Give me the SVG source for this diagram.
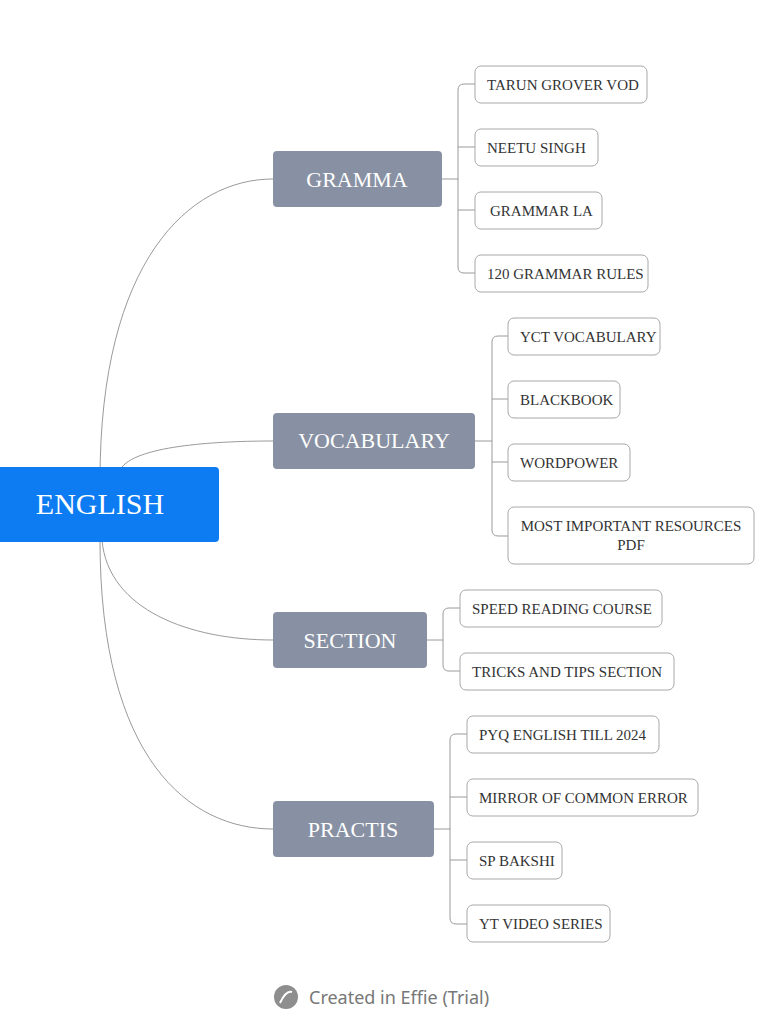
<svg xmlns="http://www.w3.org/2000/svg" width="768" height="1024" viewBox="0 0 768 1024">
<style>
.c{fill:none;stroke:#9a9a9a;stroke-width:1}
.b{fill:#8891a3}
.bt{fill:#fff;font-family:"Liberation Serif",serif;font-size:22px;text-anchor:middle}
.l{fill:#fff;stroke:#a8a8a8;stroke-width:1}
.lt{fill:#333;font-family:"Liberation Serif",serif;font-size:15px}
</style>
<rect width="768" height="1024" fill="#fff"/>
<g id="connectors">
<path class="c" d="M100,480 C100,260 190,179 273,179"/>
<path class="c" d="M122,467 C140,445 220,441 273,441"/>
<path class="c" d="M102,540 C108,610 190,640 273,640"/>
<path class="c" d="M100,540 C100,760 190,829 273,829"/>
<path class="c" d="M442,179 H458 M475,84 H464 Q458,84 458,90 V267 Q458,273 464,273 H475 M458,147 H475 M458,210 H475"/>
<path class="c" d="M475,441 H492 M508,336 H498 Q492,336 492,342 V530 Q492,536 498,536 H508 M492,399 H508 M492,462 H508"/>
<path class="c" d="M427,640 H443 M460,608 H449 Q443,608 443,614 V665 Q443,671 449,671 H460"/>
<path class="c" d="M434,829 H450 M467,734 H456 Q450,734 450,740 V918 Q450,924 456,924 H467 M450,797 H467 M450,860 H467"/>
</g>
<g id="english"><rect x="-6" y="467" width="225" height="75" rx="4" fill="#0d7cf2"/><text x="100" y="514" fill="#fff" font-family="Liberation Serif,serif" font-size="30" text-anchor="middle">ENGLISH</text></g>
<g id="gramma"><rect class="b" x="273" y="151" width="169" height="56" rx="4"/><text class="bt" x="357" y="187">GRAMMA</text></g>
<g id="vocabulary"><rect class="b" x="273" y="413" width="202" height="56" rx="4"/><text class="bt" x="374" y="448">VOCABULARY</text></g>
<g id="section"><rect class="b" x="273" y="612" width="154" height="56" rx="4"/><text class="bt" x="350" y="648">SECTION</text></g>
<g id="practis"><rect class="b" x="273" y="801" width="161" height="56" rx="4"/><text class="bt" x="353" y="837">PRACTIS</text></g>
<g id="l1"><rect class="l" x="475" y="66" width="172" height="37" rx="6"/><text class="lt" x="487" y="90">TARUN GROVER VOD</text></g>
<g id="l2"><rect class="l" x="475" y="129" width="123" height="37" rx="6"/><text class="lt" x="487" y="153">NEETU SINGH</text></g>
<g id="l3"><rect class="l" x="475" y="192" width="127" height="37" rx="6"/><text class="lt" x="490" y="216">GRAMMAR LA</text></g>
<g id="l4"><rect class="l" x="475" y="255" width="173" height="37" rx="6"/><text class="lt" x="487" y="279">120 GRAMMAR RULES</text></g>
<g id="l5"><rect class="l" x="508" y="318" width="152" height="37" rx="6"/><text class="lt" x="520" y="342">YCT VOCABULARY</text></g>
<g id="l6"><rect class="l" x="508" y="381" width="112" height="37" rx="6"/><text class="lt" x="520" y="405">BLACKBOOK</text></g>
<g id="l7"><rect class="l" x="508" y="444" width="122" height="37" rx="6"/><text class="lt" x="520" y="468">WORDPOWER</text></g>
<g id="l8"><rect class="l" x="508" y="507" width="246" height="57" rx="6"/><text class="lt" x="631" y="531" text-anchor="middle">MOST IMPORTANT RESOURCES</text><text class="lt" x="631" y="550" text-anchor="middle">PDF</text></g>
<g id="l9"><rect class="l" x="460" y="590" width="202" height="37" rx="6"/><text class="lt" x="472" y="614">SPEED READING COURSE</text></g>
<g id="l10"><rect class="l" x="460" y="653" width="214" height="37" rx="6"/><text class="lt" x="472" y="677">TRICKS AND TIPS SECTION</text></g>
<g id="l11"><rect class="l" x="467" y="716" width="192" height="37" rx="6"/><text class="lt" x="479" y="740">PYQ ENGLISH TILL 2024</text></g>
<g id="l12"><rect class="l" x="467" y="779" width="231" height="37" rx="6"/><text class="lt" x="479" y="803">MIRROR OF COMMON ERROR</text></g>
<g id="l13"><rect class="l" x="467" y="842" width="95" height="37" rx="6"/><text class="lt" x="479" y="866">SP BAKSHI</text></g>
<g id="l14"><rect class="l" x="467" y="905" width="143" height="37" rx="6"/><text class="lt" x="479" y="929">YT VIDEO SERIES</text></g>
<g id="footer"><circle cx="286" cy="997" r="12" fill="#8e8e8e"/><path d="M280,1003 Q286,990 292,992" stroke="#fff" stroke-width="2" fill="none"/><text x="309" y="1004" fill="#777" font-family="Noto Sans,sans-serif" font-size="18">Created in Effie (Trial)</text></g>
</svg>
